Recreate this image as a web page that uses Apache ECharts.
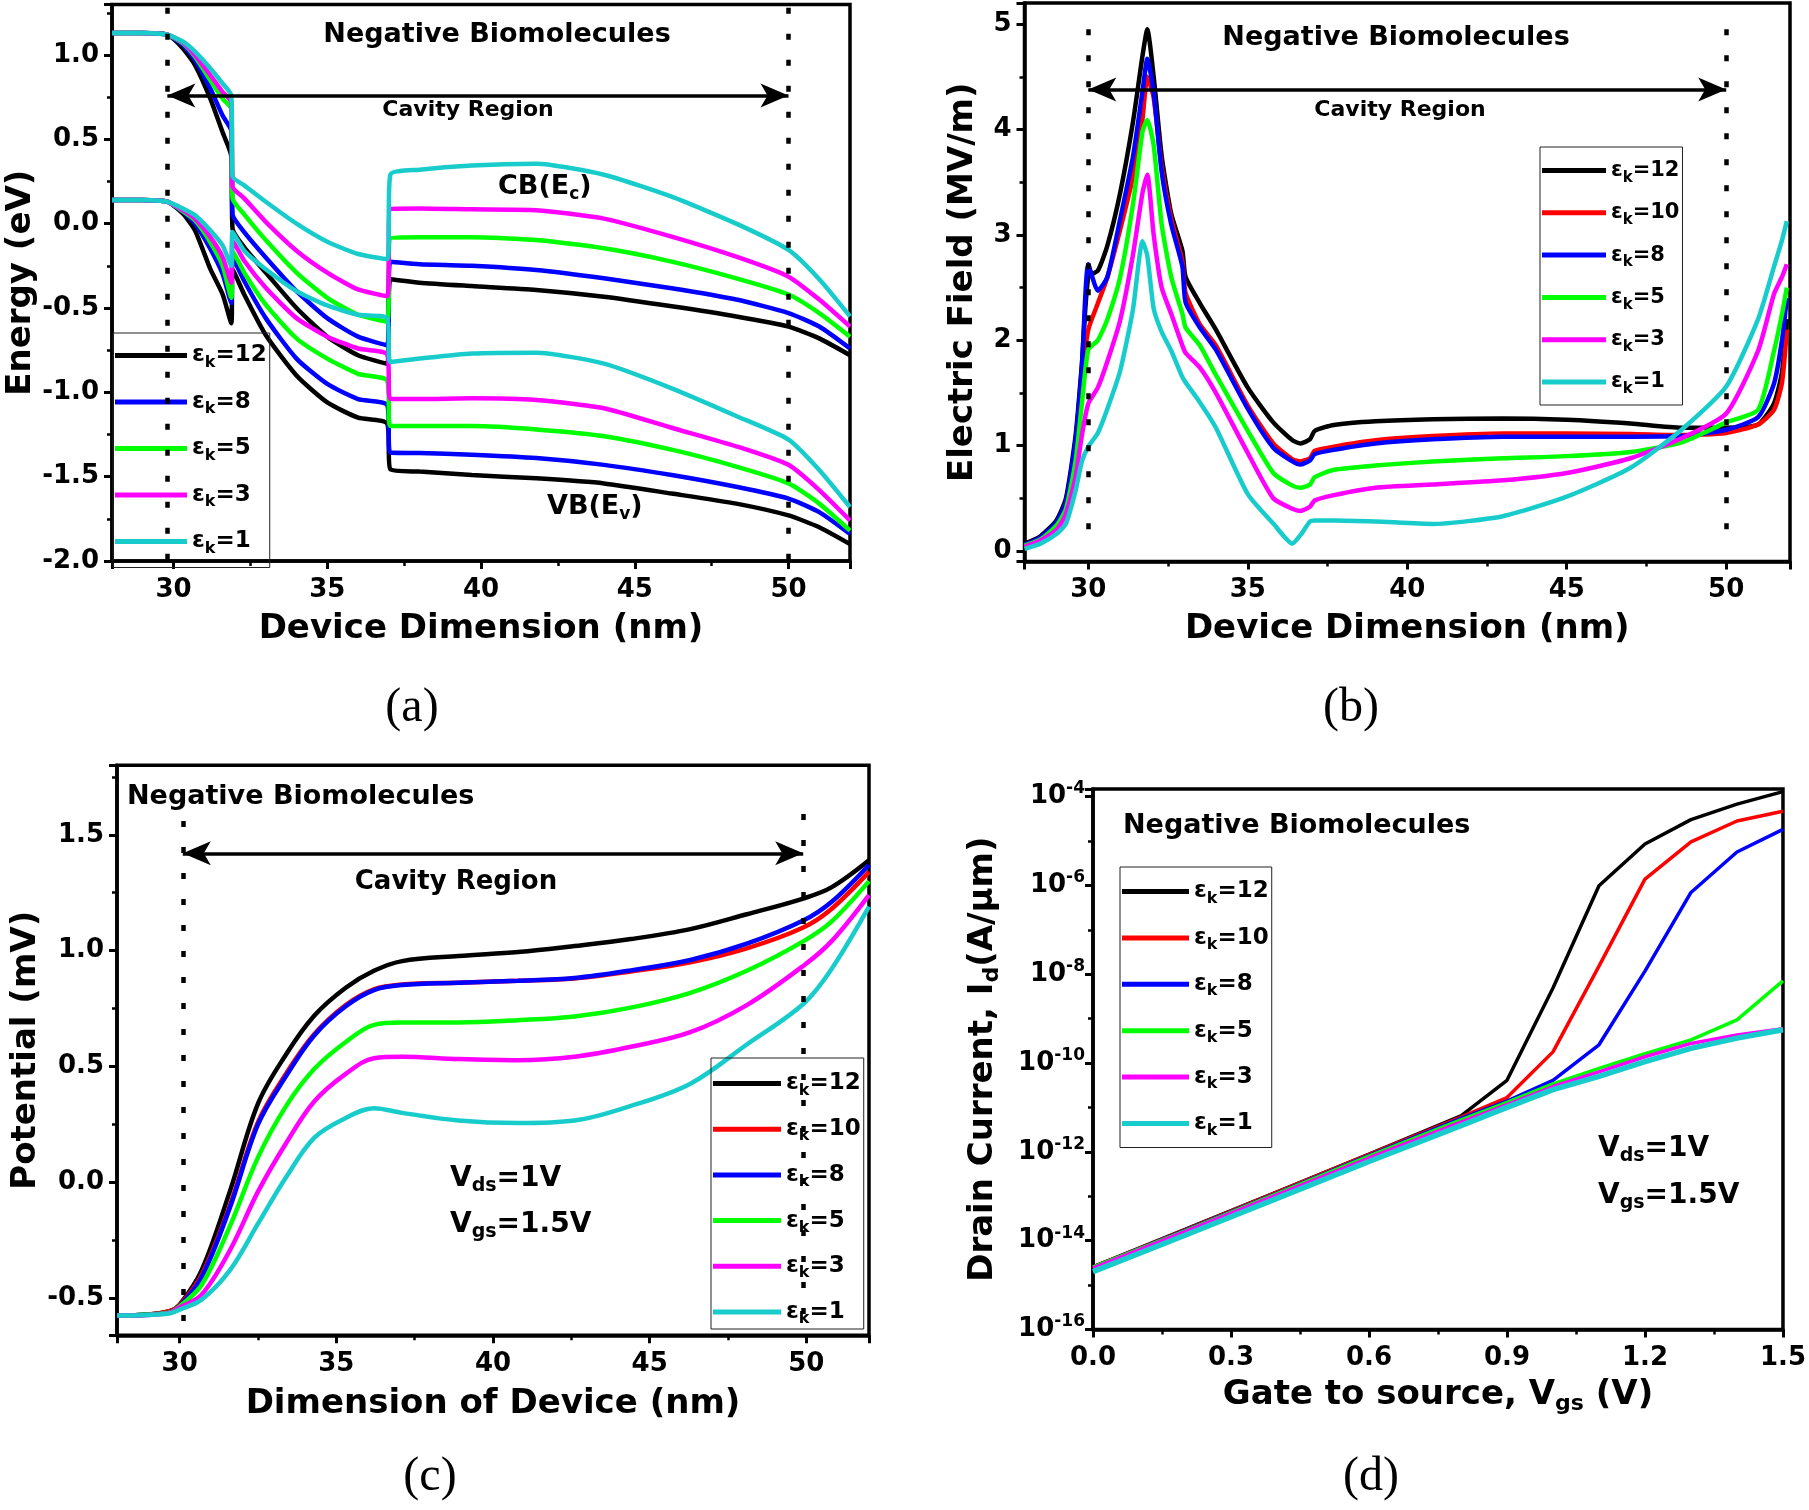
<!DOCTYPE html>
<html><head><meta charset="utf-8">
<script src="https://cdn.jsdelivr.net/npm/echarts@6/dist/echarts.min.js"></script>
<style>html,body{margin:0;padding:0;background:#fff}#c{width:1809px;height:1510px}</style>
</head><body><div id="c"></div>
<script>
// ================= DATA =================
const epsA = ['12', '8', '5', '3', '1'];
const epsAll = ['12', '10', '8', '5', '3', '1'];
const colors = {'12': '#000000', '10': '#ff0000', '8': '#0000ff', '5': '#00ff00', '3': '#ff00ff', '1': '#19cccc'};

// Panel (a): band energies (eV) vs device dimension (nm)
const aX = [28, 29, 29.8, 30.3, 30.7, 31.2, 31.6, 31.88, 31.92, 32.3, 33, 34, 35, 36, 36.95, 37.05, 38, 39.7, 41.8, 44, 46.2, 48.3, 50, 51, 52];
const aCB12 = [1.13, 1.13, 1.12, 1.04, 0.94, 0.74, 0.54, 0.40, -0.03, -0.14, -0.29, -0.5, -0.67, -0.78, -0.83, -0.33, -0.35, -0.37, -0.393, -0.433, -0.49, -0.55, -0.61, -0.68, -0.78];
const aCB8 = [1.13, 1.13, 1.12, 1.06, 0.97, 0.8, 0.64, 0.55, 0.055, -0.05, -0.2, -0.4, -0.56, -0.67, -0.72, -0.226, -0.24, -0.25, -0.275, -0.324, -0.383, -0.45, -0.53, -0.61, -0.74];
const aCB5 = [1.13, 1.13, 1.12, 1.07, 0.99, 0.85, 0.74, 0.68, 0.15, 0.055, -0.097, -0.29, -0.44, -0.54, -0.58, -0.086, -0.08, -0.08, -0.097, -0.146, -0.225, -0.324, -0.42, -0.53, -0.67];
const aCB3 = [1.13, 1.13, 1.12, 1.075, 1.0, 0.88, 0.78, 0.72, 0.22, 0.15, 0.011, -0.16, -0.29, -0.39, -0.43, 0.087, 0.09, 0.085, 0.08, 0.03, -0.077, -0.196, -0.314, -0.45, -0.61];
const aCB1 = [1.13, 1.13, 1.12, 1.08, 1.02, 0.92, 0.83, 0.76, 0.28, 0.227, 0.13, 0.0, -0.107, -0.18, -0.21, 0.29, 0.32, 0.345, 0.355, 0.29, 0.16, 0.0, -0.156, -0.33, -0.55];
const aVB12 = [0.14, 0.14, 0.13, 0.06, -0.04, -0.27, -0.42, -0.59, -0.27, -0.42, -0.66, -0.9, -1.06, -1.15, -1.185, -1.455, -1.47, -1.49, -1.51, -1.54, -1.6, -1.66, -1.73, -1.8, -1.9];
const aVB8 = [0.14, 0.14, 0.13, 0.07, 0.0, -0.15, -0.3, -0.47, -0.2, -0.34, -0.56, -0.8, -0.95, -1.04, -1.075, -1.357, -1.36, -1.37, -1.39, -1.43, -1.49, -1.56, -1.63, -1.71, -1.84];
const aVB5 = [0.14, 0.14, 0.13, 0.075, 0.02, -0.11, -0.25, -0.44, -0.16, -0.29, -0.48, -0.68, -0.8, -0.89, -0.93, -1.2, -1.2, -1.2, -1.22, -1.26, -1.34, -1.44, -1.54, -1.66, -1.82];
const aVB3 = [0.14, 0.14, 0.13, 0.08, 0.03, -0.08, -0.2, -0.35, -0.1, -0.22, -0.38, -0.56, -0.67, -0.74, -0.775, -1.04, -1.04, -1.035, -1.045, -1.094, -1.21, -1.32, -1.43, -1.58, -1.76];
const aVB1 = [0.14, 0.14, 0.13, 0.09, 0.05, -0.04, -0.13, -0.25, -0.05, -0.16, -0.27, -0.40, -0.485, -0.54, -0.56, -0.82, -0.80, -0.77, -0.765, -0.83, -0.976, -1.14, -1.28, -1.46, -1.68];

// Panel (b): electric field (MV/m)
const bX = [28, 28.5, 29, 29.3, 29.6, 29.8, 30, 30.3, 30.6, 31, 31.4, 31.7, 31.85, 32.05, 32.3, 32.6, 32.95, 33.05, 33.5, 34, 35, 35.8, 36.4, 36.65, 36.95, 37.1, 37.7, 39, 40.8, 43, 45, 47, 48.6, 50, 51, 51.5, 51.75, 51.9];
const bE12 = [0.07, 0.14, 0.29, 0.5, 1.09, 1.78, 2.6, 2.66, 2.9, 3.4, 4.07, 4.7, 4.95, 4.5, 3.75, 3.2, 2.85, 2.6, 2.35, 2.1, 1.55, 1.22, 1.05, 1.02, 1.06, 1.14, 1.195, 1.23, 1.25, 1.258, 1.245, 1.21, 1.17, 1.17, 1.2, 1.4, 1.7, 2.2];
const bE10 = [0.06, 0.12, 0.26, 0.45, 1.0, 1.65, 2.1, 2.35, 2.6, 3.05, 3.55, 4.1, 4.5, 4.3, 3.65, 3.15, 2.75, 2.45, 2.15, 1.95, 1.38, 1.02, 0.87, 0.85, 0.88, 0.95, 0.99, 1.05, 1.09, 1.115, 1.115, 1.11, 1.1, 1.12, 1.2, 1.34, 1.6, 2.1];
const bE8 = [0.06, 0.13, 0.27, 0.47, 1.05, 1.75, 2.72, 2.47, 2.6, 3.15, 3.74, 4.36, 4.67, 4.35, 3.6, 3.1, 2.7, 2.36, 2.12, 1.91, 1.35, 0.98, 0.85, 0.82, 0.86, 0.92, 0.96, 1.02, 1.06, 1.085, 1.085, 1.085, 1.09, 1.15, 1.27, 1.59, 2.0, 2.4];
const bE5 = [0.05, 0.11, 0.24, 0.4, 0.85, 1.4, 1.91, 2.0, 2.2, 2.6, 3.29, 3.98, 4.09, 3.85, 3.1, 2.6, 2.25, 2.12, 1.95, 1.67, 1.14, 0.74, 0.62, 0.6, 0.63, 0.7, 0.77, 0.81, 0.85, 0.88, 0.9, 0.94, 1.03, 1.22, 1.34, 1.9, 2.25, 2.5];
const bE3 = [0.04, 0.1, 0.2, 0.35, 0.7, 1.1, 1.4, 1.55, 1.8, 2.19, 2.81, 3.4, 3.57, 3.0, 2.5, 2.25, 1.95, 1.88, 1.74, 1.5, 0.93, 0.5, 0.4, 0.38, 0.42, 0.48, 0.53, 0.6, 0.63, 0.67, 0.74, 0.88, 1.07, 1.305, 1.9, 2.44, 2.6, 2.72];
const bE1 = [0.02, 0.07, 0.16, 0.26, 0.57, 0.85, 0.99, 1.12, 1.35, 1.71, 2.29, 2.94, 2.8, 2.3, 2.08, 1.9, 1.65, 1.6, 1.41, 1.17, 0.54, 0.26, 0.07, 0.15, 0.28, 0.29, 0.29, 0.28, 0.256, 0.33, 0.515, 0.79, 1.15, 1.56, 2.2, 2.7, 2.95, 3.13];

// Panel (c): potential (mV)
const cX = [28, 29, 29.7, 30, 30.7, 31.6, 32.5, 33.4, 34.3, 35.3, 36.2, 37.1, 38.9, 40.8, 42.6, 44.4, 46.3, 48.1, 49.9, 50.8, 52];
const cP12 = [-0.575, -0.57, -0.555, -0.528, -0.38, -0.04, 0.34, 0.553, 0.72, 0.84, 0.913, 0.955, 0.977, 0.994, 1.02, 1.05, 1.093, 1.157, 1.225, 1.273, 1.39];
const cP10 = [-0.575, -0.57, -0.555, -0.53, -0.40, -0.10, 0.26, 0.47, 0.64, 0.765, 0.833, 0.854, 0.862, 0.87, 0.88, 0.91, 0.95, 1.01, 1.10, 1.18, 1.34];
const cP8 = [-0.575, -0.57, -0.56, -0.535, -0.41, -0.11, 0.25, 0.46, 0.635, 0.76, 0.83, 0.852, 0.862, 0.87, 0.882, 0.915, 0.96, 1.03, 1.13, 1.21, 1.37];
const cP5 = [-0.575, -0.57, -0.56, -0.535, -0.443, -0.19, 0.108, 0.33, 0.49, 0.606, 0.68, 0.69, 0.69, 0.70, 0.716, 0.754, 0.818, 0.913, 1.04, 1.125, 1.3];
const cP3 = [-0.575, -0.572, -0.562, -0.54, -0.485, -0.294, -0.04, 0.17, 0.35, 0.468, 0.536, 0.542, 0.532, 0.527, 0.542, 0.585, 0.648, 0.765, 0.934, 1.04, 1.24];
const cP1 = [-0.575, -0.572, -0.565, -0.549, -0.506, -0.38, -0.178, 0.023, 0.193, 0.278, 0.32, 0.30, 0.267, 0.256, 0.267, 0.33, 0.426, 0.595, 0.77, 0.92, 1.19];

// Panel (d): log10 of drain current (A/um) vs Vgs (V)
const dX = [0, 0.2, 0.4, 0.6, 0.8, 0.9, 1.0, 1.1, 1.2, 1.3, 1.4, 1.5];
const dLogI12 = [-14.59, -13.75, -12.9, -12.05, -11.19, -10.39, -8.31, -6.01, -5.07, -4.52, -4.17, -3.89];
const dLogI10 = [-14.59, -13.76, -12.91, -12.06, -11.22, -10.78, -9.75, -7.82, -5.86, -5.02, -4.55, -4.33];
const dLogI8 = [-14.6, -13.77, -12.93, -12.08, -11.25, -10.86, -10.39, -9.59, -7.93, -6.16, -5.25, -4.74];
const dLogI5 = [-14.6, -13.78, -12.94, -12.1, -11.28, -10.89, -10.47, -10.12, -9.79, -9.48, -9.03, -8.15];
const dLogI3 = [-14.62, -13.8, -12.97, -12.14, -11.33, -10.94, -10.53, -10.2, -9.86, -9.56, -9.37, -9.23];
const dLogI1 = [-14.7, -13.88, -13.05, -12.22, -11.41, -11.0, -10.6, -10.3, -9.97, -9.67, -9.44, -9.25];

// ================= CHART =================
const F = 'DejaVu Sans';
const pairs = (xs, ys) => xs.map((x, i) => [x, ys[i]]);
const aCB = {'12': aCB12, '8': aCB8, '5': aCB5, '3': aCB3, '1': aCB1};
const aVB = {'12': aVB12, '8': aVB8, '5': aVB5, '3': aVB3, '1': aVB1};
const bE = {'12': bE12, '10': bE10, '8': bE8, '5': bE5, '3': bE3, '1': bE1};
const cP = {'12': cP12, '10': cP10, '8': cP8, '5': cP5, '3': cP3, '1': cP1};
const dI = {'12': dLogI12, '10': dLogI10, '8': dLogI8, '5': dLogI5, '3': dLogI3, '1': dLogI1};

const grids = [
  {left: 112, top: 4.4, width: 738, height: 556.6},
  {left: 1024.5, top: 3, width: 765.5, height: 558.5},
  {left: 117, top: 765.3, width: 752, height: 570},
  {left: 1093, top: 789, width: 695, height: 540.4}
].map(g => Object.assign({show: true, borderColor: '#000', borderWidth: 3.5, backgroundColor: 'transparent'}, g));

const nameRich = {
  m: {fontSize: 34, fontWeight: 'bold', fontFamily: F, color: '#000', lineHeight: 40},
  s: {fontSize: 22, fontWeight: 'bold', fontFamily: F, color: '#000', lineHeight: 22, verticalAlign: 'bottom'}
};
function axisBase(extra) {
  const base = {
    type: 'value',
    axisLine: {show: true, onZero: false, lineStyle: {color: '#000', width: 3.5}},
    axisTick: {show: true, inside: false, length: 8, lineStyle: {color: '#000', width: 3}},
    minorTick: {show: true, splitNumber: 2, length: 5, lineStyle: {color: '#000', width: 2.5}},
    splitLine: {show: false}, minorSplitLine: {show: false},
    axisLabel: {color: '#000', fontFamily: F, fontWeight: 'bold', fontSize: 26, margin: 14},
    nameLocation: 'middle',
    nameTextStyle: {fontSize: 34, fontWeight: 'bold', fontFamily: F, color: '#000', rich: nameRich}
  };
  const out = Object.assign({}, base, extra);
  out.axisLabel = Object.assign({}, base.axisLabel, extra.axisLabel || {});
  return out;
}
const xAxes = [
  axisBase({gridIndex: 0, min: 28, max: 52, minInterval: 5, maxInterval: 5, name: 'Device Dimension (nm)', nameGap: 51,
    axisLabel: {margin: 16, showMinLabel: false, showMaxLabel: false, formatter: v => String(v)}}),
  axisBase({gridIndex: 1, min: 28, max: 52, minInterval: 5, maxInterval: 5, name: 'Device Dimension (nm)', nameGap: 51,
    axisLabel: {margin: 16, showMinLabel: false, showMaxLabel: false, formatter: v => String(v)}}),
  axisBase({gridIndex: 2, min: 28, max: 52, minInterval: 5, maxInterval: 5, name: 'Dimension of Device (nm)', nameGap: 52,
    axisLabel: {margin: 16, showMinLabel: false, showMaxLabel: false, formatter: v => String(v)}}),
  axisBase({gridIndex: 3, min: 0, max: 1.5, interval: 0.3, name: '{m|Gate to source, V}{s|gs}{m| (V)}', nameGap: 46,
    axisLabel: {margin: 16, showMinLabel: true, showMaxLabel: true, formatter: v => v.toFixed(1)}})
];
const yAxes = [
  axisBase({gridIndex: 0, min: -2, max: 1.3, interval: 0.5, name: 'Energy (eV)', nameGap: 72,
    axisLabel: {margin: 13, showMaxLabel: false, formatter: v => v.toFixed(1)}}),
  axisBase({gridIndex: 1, min: -0.1, max: 5.2, minInterval: 1, maxInterval: 1, name: 'Electric Field (MV/m)', nameGap: 44,
    axisLabel: {margin: 13, showMinLabel: false, showMaxLabel: false, formatter: v => String(Math.round(v))}}),
  axisBase({gridIndex: 2, min: -0.66, max: 1.8, minInterval: 0.5, maxInterval: 0.5, name: 'Potential (mV)', nameGap: 48,
    axisLabel: {margin: 13, showMinLabel: false, showMaxLabel: false, formatter: v => v.toFixed(1)}}),
  axisBase({gridIndex: 3, min: -16, max: -3.83, interval: 2, name: '{m|Drain Current, I}{s|d}{m|(A/μm)}', nameGap: 90,
    axisLabel: {margin: 8, showMaxLabel: false, formatter: v => '{b|10}{p|' + Math.round(v) + '}',
      rich: {b: {fontSize: 26, fontWeight: 'bold', fontFamily: F, color: '#000', lineHeight: 32},
             p: {fontSize: 17, fontWeight: 'bold', fontFamily: F, color: '#000', lineHeight: 14, verticalAlign: 'top'}}}})
];

const series = [];
function lineSeries(name, gi, data, width, smooth) {
  return {name, type: 'line', xAxisIndex: gi, yAxisIndex: gi, data, showSymbol: false, symbol: 'none',
    smooth: smooth || false, color: colors[name],
    lineStyle: {color: colors[name], width: width}, z: 3, silent: true};
}
epsA.forEach(e => {
  series.push(lineSeries(e, 0, pairs(aX, aCB[e]), 4.5, 0.2));
  series.push(lineSeries(e, 0, pairs(aX, aVB[e]), 4.5, 0.2));
});
epsAll.forEach(e => series.push(lineSeries(e, 1, pairs(bX, bE[e]), 4.5, 0.2)));
epsAll.forEach(e => series.push(lineSeries(e, 2, pairs(cX, cP[e]), 4.5, 0.35)));
epsAll.forEach(e => series.push(lineSeries(e, 3, pairs(dX, dI[e]), e === '1' ? 5.5 : 3.5)));

// annotation lines (dotted cavity boundaries + double arrows)
const dotStyle = {color: '#000', width: 4.5, type: [6, 20]};
function markSeries(gi, dots, arrow) {
  const data = [];
  dots.forEach(d => data.push([{coord: [d[0], d[1]], lineStyle: dotStyle, symbol: 'none'}, {coord: [d[0], d[2]], symbol: 'none'}]));
  data.push([{coord: [arrow[0], arrow[2]], lineStyle: {color: '#000', width: 3.5, type: 'solid'}, symbol: 'arrow'},
             {coord: [arrow[1], arrow[2]], symbol: 'arrow'}]);
  return {type: 'line', xAxisIndex: gi, yAxisIndex: gi, data: [], silent: true,
    markLine: {silent: true, animation: false, symbol: 'none', symbolSize: [18, 28], label: {show: false},
      emphasis: {disabled: true}, data}};
}
series.push(markSeries(0, [[29.8, 1.28, -2.0], [50, 1.28, -2.0]], [29.8, 50, 0.76]));
series.push(markSeries(1, [[30, 4.95, 0.05], [50, 4.95, 0.05]], [30, 50, 4.38]));
series.push(markSeries(2, [[30.1, 1.56, -0.66], [49.9, 1.59, -0.66]], [30.1, 49.9, 1.42]));

// legends
function legend(names, left, top, itemWidth, gap, pad, fs) {
  return {data: names.map(n => ({name: n, icon: 'rect'})), orient: 'vertical', left, top, itemWidth, itemHeight: 5, itemGap: gap, padding: pad,
    borderColor: '#222', borderWidth: 1, selectedMode: false, backgroundColor: 'transparent',
    formatter: n => '{e|ε}{k|k}{e|=' + n + '}',
    textStyle: {color: '#000', rich: {
      e: {fontSize: fs, fontWeight: 'bold', fontFamily: F, color: '#000', lineHeight: 30},
      k: {fontSize: Math.round(fs * 0.7), fontWeight: 'bold', fontFamily: F, color: '#000', lineHeight: 13, verticalAlign: 'bottom'}}}};
}
const legends = [
  legend(epsA, 113, 333, 72, 20, [11, 3, 11, 2], 23),
  legend(epsAll, 1540, 147, 64, 16.8, [13, 3, 8, 2], 21),
  legend(epsAll, 711, 1058, 68, 19.2, [14, 3, 2, 2], 23),
  legend(epsAll, 1120, 867, 67, 19.9, [13, 3, 9, 2], 23)
];

// text annotations
function txt(x, y, text, size, align, family, weight) {
  return {type: 'text', x, y, silent: true, z: 20,
    style: {text, fontSize: size, fontFamily: family || F, fontWeight: weight || 'bold', fill: '#000',
      textAlign: align || 'center', textVerticalAlign: 'middle'}};
}
function subTxt(x, y, main, sub, tail, size, subSize, align) {
  return {type: 'text', x, y, silent: true, z: 20,
    style: {text: '{m|' + main + '}{s|' + sub + '}{m|' + tail + '}', fill: '#000', fontFamily: F, fontWeight: 'bold', fontSize: size,
      textAlign: align || 'left', textVerticalAlign: 'middle',
      rich: {m: {fontSize: size, fontFamily: F, fontWeight: 'bold', fill: '#000', lineHeight: size + 6},
             s: {fontSize: subSize, fontFamily: F, fontWeight: 'bold', fill: '#000', lineHeight: subSize, verticalAlign: 'bottom'}}}};
}
const graphics = [
  txt(497, 35, 'Negative Biomolecules', 27),
  txt(468, 110, 'Cavity Region', 22),
  subTxt(498, 187, 'CB(E', 'c', ')', 27, 17),
  subTxt(547, 507, 'VB(E', 'v', ')', 27, 17),
  txt(1396, 38, 'Negative Biomolecules', 27),
  txt(1400, 110, 'Cavity Region', 22),
  txt(127, 797, 'Negative Biomolecules', 27, 'left'),
  txt(456, 882, 'Cavity Region', 26),
  subTxt(450, 1179, 'V', 'ds', '=1V', 28, 19),
  subTxt(450, 1225, 'V', 'gs', '=1.5V', 28, 19),
  txt(1123, 826, 'Negative Biomolecules', 27, 'left'),
  subTxt(1598, 1149, 'V', 'ds', '=1V', 28, 19),
  subTxt(1598, 1196, 'V', 'gs', '=1.5V', 28, 19),
  txt(412, 708, '(a)', 48, 'center', 'Liberation Serif', 'normal'),
  txt(1351, 708, '(b)', 48, 'center', 'Liberation Serif', 'normal'),
  txt(430, 1477, '(c)', 48, 'center', 'Liberation Serif', 'normal'),
  txt(1371, 1477, '(d)', 48, 'center', 'Liberation Serif', 'normal')
];

const chart = echarts.init(document.getElementById('c'), null, {renderer: 'canvas'});
chart.setOption({
  animation: false,
  backgroundColor: '#ffffff',
  grid: grids,
  xAxis: xAxes,
  yAxis: yAxes,
  legend: legends,
  series: series,
  graphic: {elements: graphics},
  tooltip: {show: false}
});
</script>
</body></html>
